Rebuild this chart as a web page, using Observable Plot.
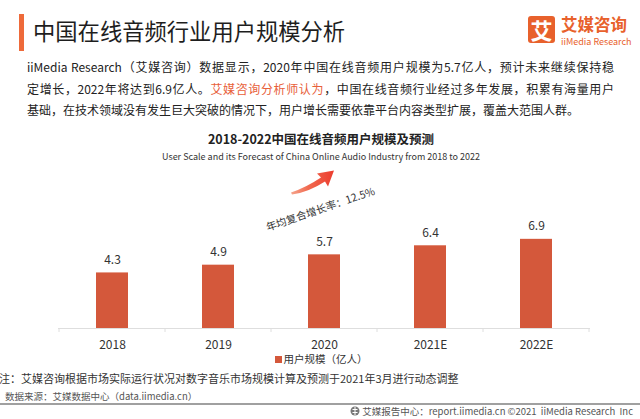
<!DOCTYPE html>
<html>
<head>
<meta charset="utf-8">
<script src="https://cdn.jsdelivr.net/npm/d3@7"></script>
<script src="https://cdn.jsdelivr.net/npm/@observablehq/plot@0.6"></script>
<style>
  body { margin: 0; width: 640px; height: 419px; overflow: hidden; background: #fff;
         font-family: "Noto Sans CJK SC", "Noto Sans", sans-serif; color: #333; position: relative; }
  .abs { position: absolute; white-space: nowrap; }
  .just { text-align: justify; text-align-last: justify; }
  #chart { position: absolute; left: 0; top: 160px; }
</style>
</head>
<body>
<!-- page header -->
<div class="abs" style="left:19px;top:14px;width:5px;height:37px;background:#ee6a3a"></div>
<div class="abs" style="left:33px;top:14px;font-size:22.3px;line-height:32px;color:#1e1e1e">中国在线音频行业用户规模分析</div>
<div class="abs" style="left:528px;top:16px;width:27px;height:27px;background:#e8612c;border-radius:3px;color:#fff;font-size:22px;font-weight:bold;text-align:center;line-height:27px">艾</div>
<div class="abs" style="left:561px;top:14.5px;font-size:16.5px;font-weight:bold;color:#e8612c;line-height:18px">艾媒咨询</div>
<div class="abs" style="left:561px;top:37px;font-size:9px;color:#e8612c;line-height:10px">iiMedia Research</div>

<!-- summary paragraph -->
<div class="abs" style="left:27px;top:56px;width:587px;font-size:12px;line-height:21.5px;color:#222;white-space:normal">
  <div class="just">iiMedia Research（艾媒咨询）数据显示，2020年中国在线音频用户规模为5.7亿人，预计未来继续保持稳</div>
  <div class="just">定增长，2022年将达到6.9亿人。<span style="color:#e8603a">艾媒咨询分析师认为</span>，中国在线音频行业经过多年发展，积累有海量用户</div>
  <div>基础，在技术领域没有发生巨大突破的情况下，用户增长需要依靠平台内容类型扩展，覆盖大范围人群。</div>
</div>

<!-- chart headings -->
<div class="abs" style="left:0;width:642px;top:130px;text-align:center;font-size:12.5px;font-weight:bold;line-height:18px;color:#222">2018-2022中国在线音频用户规模及预测</div>
<div class="abs" style="left:0;width:642px;top:151px;text-align:center;font-size:9px;line-height:12px;color:#333">User Scale and its Forecast of China Online Audio Industry from 2018 to 2022</div>

<div id="chart"></div>

<!-- legend -->
<div class="abs" style="left:0;width:642px;top:351px;text-align:center;font-size:10.5px;line-height:15px;color:#333">
  <span style="display:inline-block;width:7px;height:7px;background:#d4583b;margin-right:2px;vertical-align:0px"></span><span id="legendText"></span>
</div>

<!-- notes and footer -->
<div class="abs" style="left:-1px;top:370px;font-size:11px;line-height:16px;color:#333">注：艾媒咨询根据市场实际运行状况对数字音乐市场规模计算及预测于2021年3月进行动态调整</div>
<div class="abs" style="left:5px;top:389px;font-size:9.5px;line-height:14px;color:#555">数据来源：艾媒数据中心（data.iimedia.cn）</div>
<div class="abs" style="left:0;top:403px;width:640px;height:1.5px;background:#a0a0a0"></div>
<div class="abs" style="right:7px;top:404px;font-size:9.5px;line-height:14px;color:#555">
  <svg width="10" height="10" viewBox="0 0 10 10" style="vertical-align:-1px;margin-right:2px">
    <circle cx="5" cy="5" r="4.5" fill="#777"/>
    <path d="M2.5 3.5h5M2.5 6.5h5M5 1v8" stroke="#fff" stroke-width="1"/>
  </svg>艾媒报告中心：report.iimedia.cn ©2021&nbsp; iiMedia Research&nbsp; Inc
</div>

<script>
// User scale of China's online audio industry, 100 million users
const years = ["2018", "2019", "2020", "2021E", "2022E"];
const users = [4.3, 4.9, 5.7, 6.4, 6.9];
const seriesName = "用户规模（亿人）";
const growthLabel = "年均复合增长率：12.5%";

const data = years.map((year, i) => ({year, value: users[i]}));
document.getElementById("legendText").textContent = seriesName;

const barColor = "#d4583b";
const font = '"Noto Sans CJK SC", "Noto Sans", sans-serif';

// small ticks at the band boundaries below the baseline
function bandEdges(index, scales) {
  const x = scales.x, y = scales.y;
  const bw = x.bandwidth ? x.bandwidth() : 0;
  const c0 = x(years[0]) + bw / 2;
  const step = x(years[1]) - x(years[0]);
  const g = d3.create("svg:g").attr("stroke", "#dedede");
  for (let i = 0; i <= years.length; i++) {
    const ex = c0 - step / 2 + i * step;
    g.append("line").attr("x1", ex).attr("x2", ex).attr("y1", y(0)).attr("y2", y(0) + 4);
  }
  return g.node();
}

// curved growth arrow rising towards the 2020 bar
function growthArrow(index, scales) {
  const x = scales.x, y = scales.y;
  const bw = x.bandwidth ? x.bandwidth() : 0;
  const ax = x(years[2]) + bw / 2, ay = y(10.4);
  const g = d3.create("svg:g");
  const grad = g.append("defs").append("linearGradient")
    .attr("id", "growthGrad").attr("x1", 0).attr("y1", 0).attr("x2", 1).attr("y2", 0);
  grad.append("stop").attr("offset", 0).attr("stop-color", "#f5a58c");
  grad.append("stop").attr("offset", 0.4).attr("stop-color", "#f16a50");
  grad.append("stop").attr("offset", 1).attr("stop-color", "#ec3d2e");
  g.append("path")
    .attr("transform", `translate(${ax},${ay})`)
    .attr("fill", "url(#growthGrad)")
    .attr("d", "M-32,1 Q-16,-1 1,-12 L4,-7 L10,-23 L-7,-20 L-3,-16 Q-18,-6 -33,-1 Z");
  return g.node();
}

const chart = Plot.plot({
  width: 640,
  height: 192,
  marginLeft: 58,
  marginRight: 50,
  marginTop: 0,
  marginBottom: 24,
  x: {domain: years, paddingInner: 0.7, paddingOuter: 0.35, label: null, tickSize: 0, tickPadding: 12},
  y: {domain: [0, 13], axis: null},
  style: {fontFamily: font, fontSize: "12px", color: "#333", background: "transparent", overflow: "visible"},
  marks: [
    Plot.ruleY([0], {stroke: "#dedede"}),
    bandEdges,
    Plot.barY(data, {x: "year", y: "value", fill: barColor}),
    Plot.text(data, {x: "year", y: "value", text: d => d.value.toFixed(1), dy: -13, fontSize: 12, fill: "#333"}),
    growthArrow,
    Plot.text([growthLabel], {x: () => years[2], y: () => 9.2, text: d => d, dx: -4, rotate: -19, fontSize: 10.5, fill: "#333"})
  ]
});
document.getElementById("chart").append(chart);
</script>
</body>
</html>
